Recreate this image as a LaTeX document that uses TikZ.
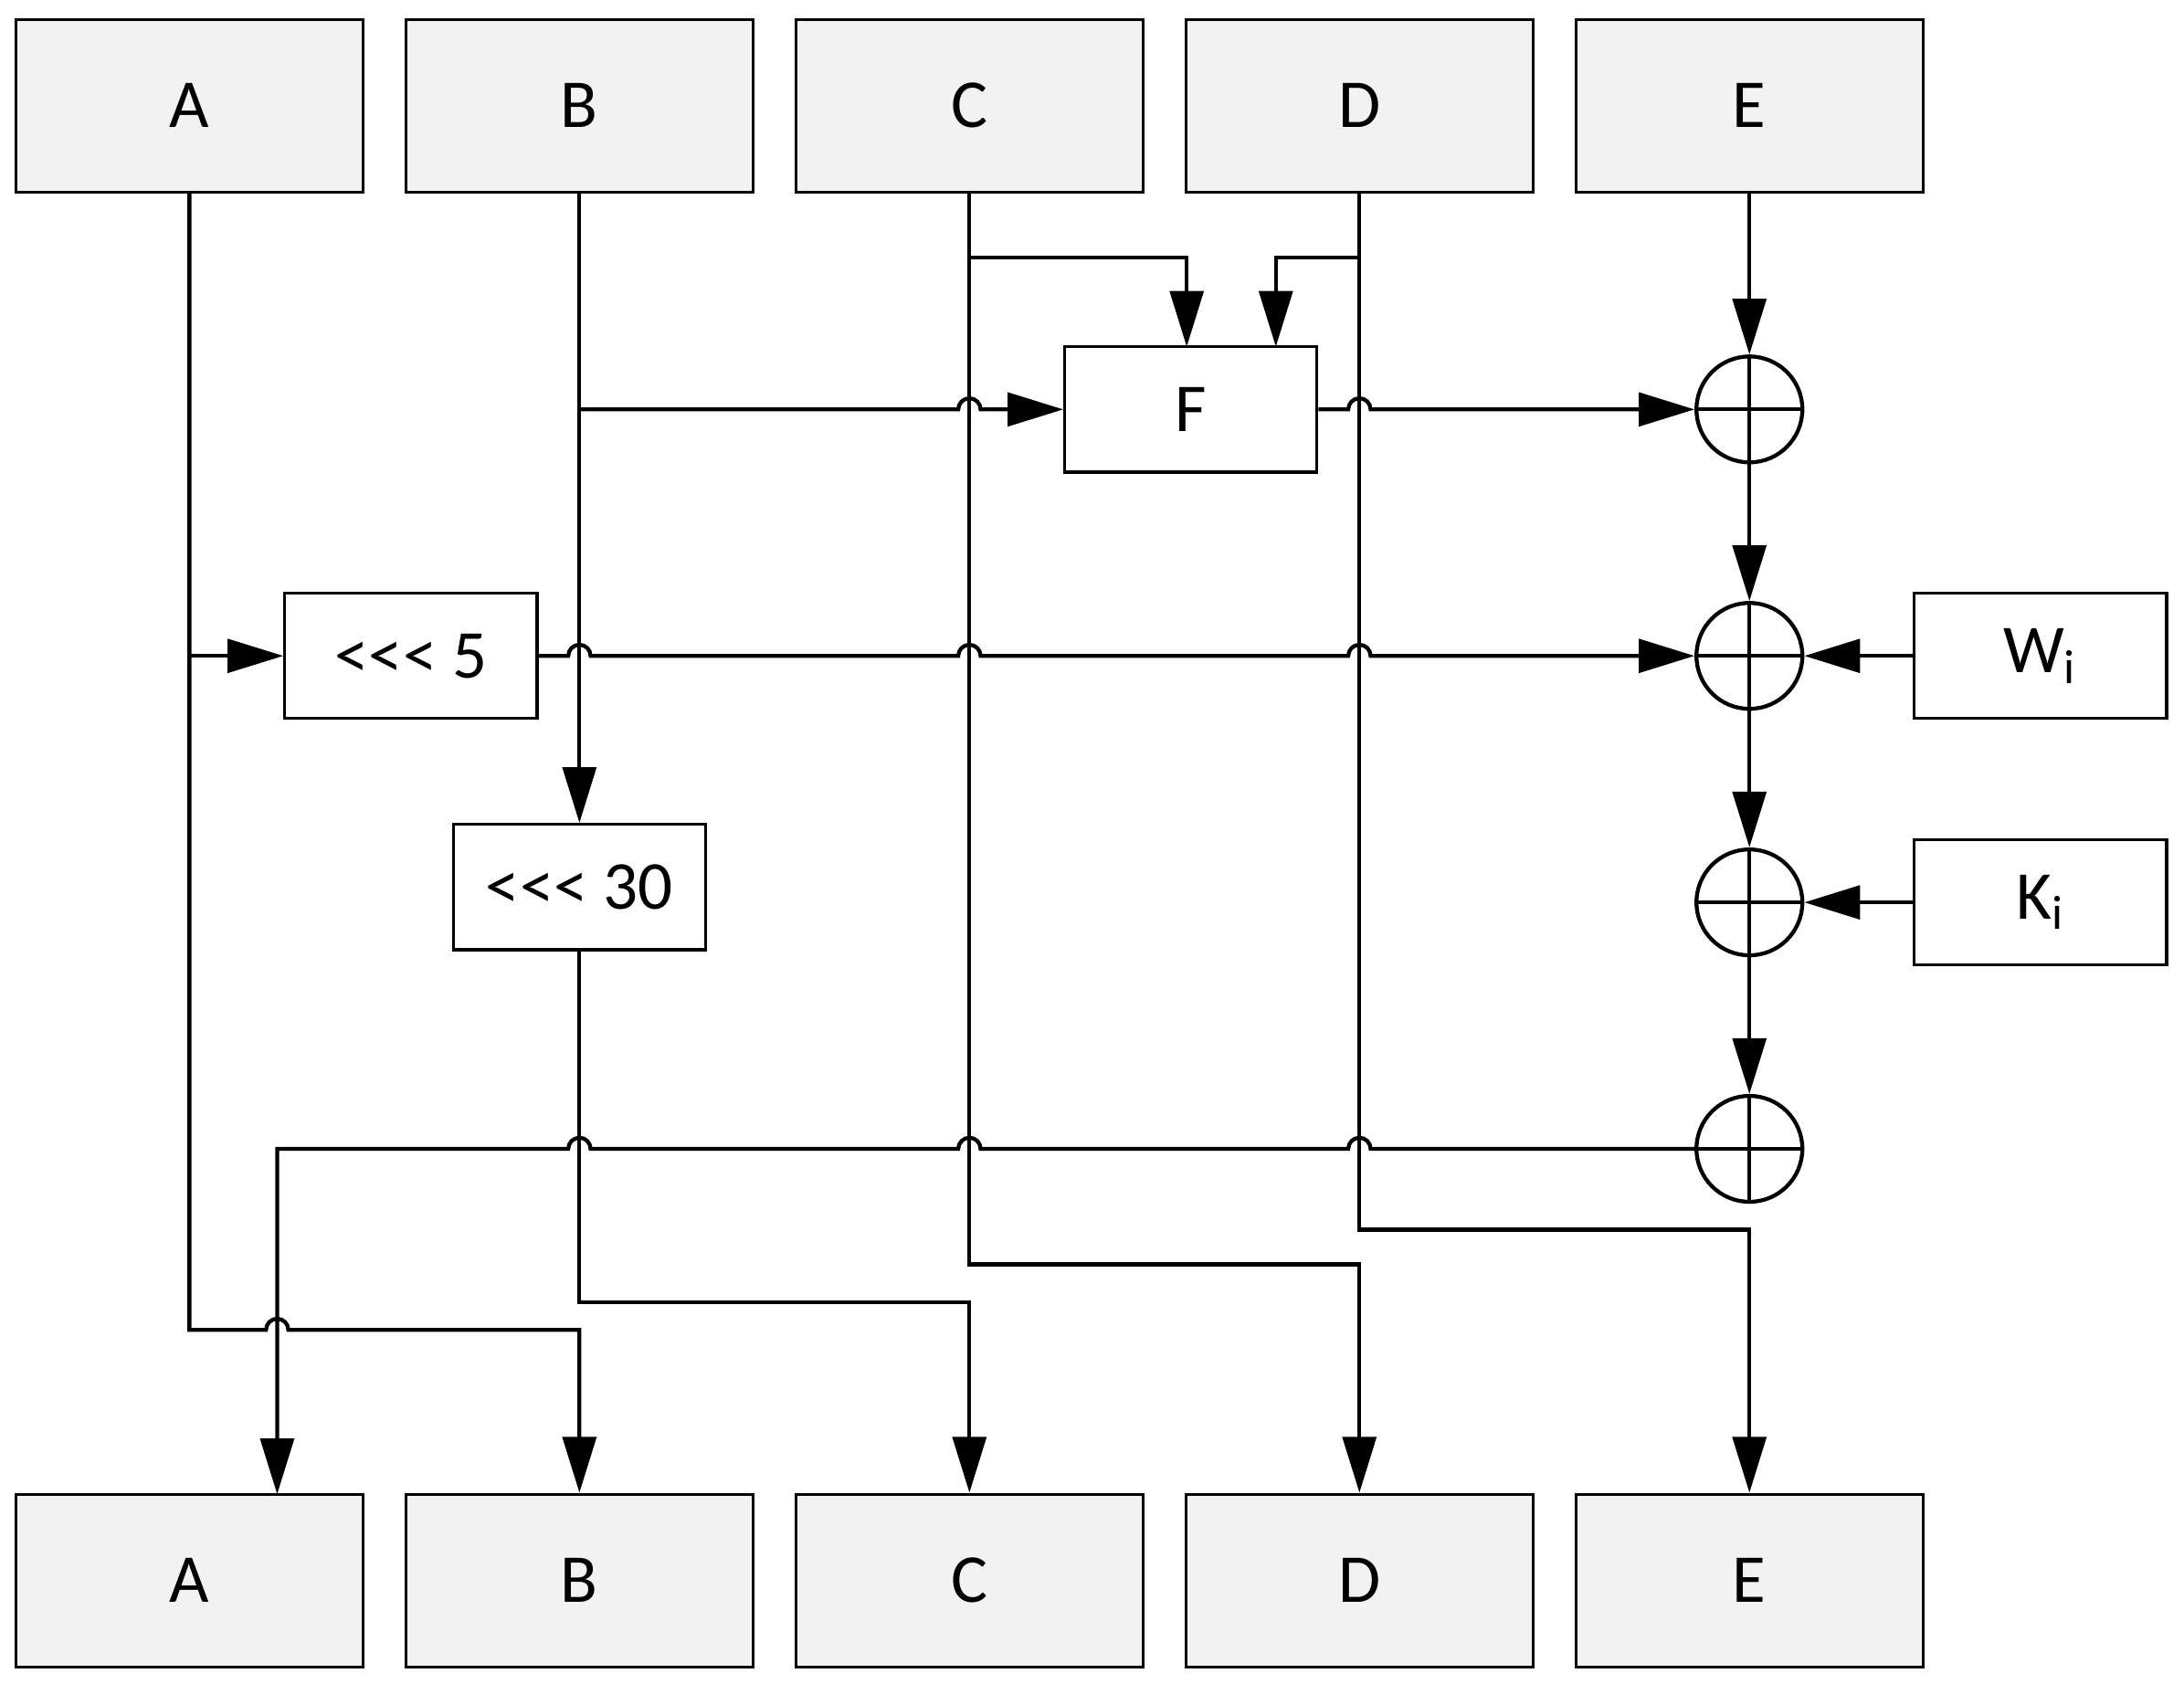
\documentclass[tikz,border=0pt]{standalone}
\usepackage{fontspec}
\setmainfont{Carlito}
\usetikzlibrary{arrows.meta}
\begin{document}
\begin{tikzpicture}[x=0.01cm, y=-0.01cm, >={Triangle[length=0.40cm,width=0.24cm]},
  every path/.style={line width=0.8pt},
  reg/.style={draw, line width=0.6pt, fill=black!5, minimum width=2.49cm, minimum height=1.24cm, font=\fontsize{14}{16}\selectfont},
  op/.style={draw, line width=0.6pt, fill=white, minimum width=1.81cm, minimum height=0.9cm, font=\fontsize{14}{16}\selectfont},
  xor/.style={draw, circle, line width=0.8pt, minimum size=0.76cm, inner sep=0pt,
    path picture={\draw[line width=0.8pt] (path picture bounding box.north) -- (path picture bounding box.south)
      (path picture bounding box.west) -- (path picture bounding box.east);}}]
\useasboundingbox (0,0) rectangle (1568,1209);

\foreach \l [count=\i] in {A,B,C,D,E}
  \node [reg] (top-\l) at ({136+280*(\i-1)},76) {\l};
\foreach \l [count=\i] in {A,B,C,D,E}
  \node [reg] (bot-\l) at ({136+280*(\i-1)},1135) {\l};

\node [op] (F) at (855,294) {F};
\node [op] (rot5) at (295,471) {<{}<{}< 5};
\node [op] (rot30) at (416,637) {<{}<{}< 30};
\node [op] (W) at (1465,471) {W\textsubscript{i}};
\node [op] (K) at (1465,648) {K\textsubscript{i}};

\foreach \y [count=\i] in {294,471,648,825}
  \node [xor] (xor-\i) at (1256,\y) {};

% inputs of F
\draw [->] (696,185) -- (852,185) -- (852,249);
\draw [->] (976,185) -- (916,185) -- (916,249);
\draw [->] (top-B |- F) -- (688,294) arc[start angle=180,end angle=360,radius=8] -- (F);
\draw [->] (F) -- (968,294) arc[start angle=180,end angle=360,radius=8] -- (xor-1);

% adder chain
\draw [->] (top-E) -- (xor-1);
\foreach \i [count=\j from 2] in {1,2,3}
  \draw [->] (xor-\i) -- (xor-\j);
\draw [->] (W) -- (xor-2);
\draw [->] (K) -- (xor-3);

% rotations
\draw [->] (top-A |- rot5) -- (rot5);
\draw [->] (rot5) -- (408,471) arc[start angle=180,end angle=360,radius=8]
  -- (688,471) arc[start angle=180,end angle=360,radius=8]
  -- (968,471) arc[start angle=180,end angle=360,radius=8] -- (xor-2);
\draw [->] (top-B) -- (rot30);

% outputs
\draw [->] (xor-4) -- (984,825) arc[start angle=0,end angle=-180,radius=8]
  -- (704,825) arc[start angle=0,end angle=-180,radius=8]
  -- (424,825) arc[start angle=0,end angle=-180,radius=8]
  -- (199,825) -- (199,1073);
\draw [->] (top-A) -- (136,955) -- (191,955) arc[start angle=180,end angle=360,radius=8] -- (416,955) -- (bot-B);
\draw [->] (rot30) -- (416,935) -- (696,935) -- (bot-C);
\draw [->] (top-C) -- (696,908) -- (976,908) -- (bot-D);
\draw [->] (top-D) -- (976,883) -- (1256,883) -- (bot-E);
\end{tikzpicture}
\end{document}
